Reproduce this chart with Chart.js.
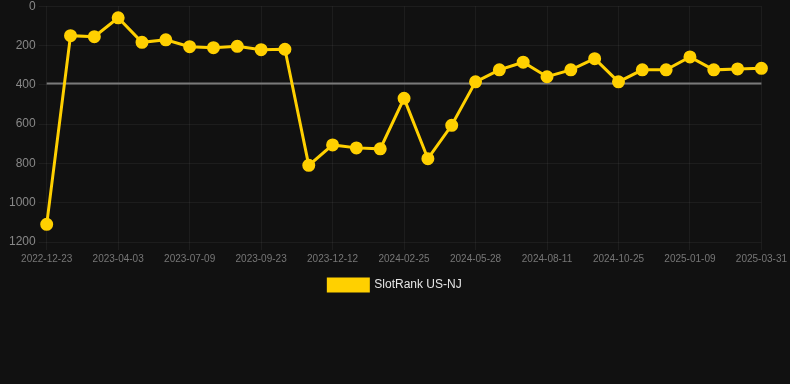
<!DOCTYPE html>
<html>
<head>
<meta charset="utf-8">
<script src="https://cdn.jsdelivr.net/npm/chart.js@4/dist/chart.umd.min.js"></script>
<style>
  html, body { margin: 0; padding: 0; background: #111111; overflow: hidden; }
  #wrap { position: relative; top: -4px; width: 790px; height: 305px; }
</style>
</head>
<body>
<div id="wrap"><canvas id="rankChart"></canvas></div>
<script>
const dates = [
    '2022-12-23', '2023-01-26', '2023-03-01', '2023-04-03', '2023-05-05', '2023-06-07',
    '2023-07-09', '2023-08-04', '2023-08-29', '2023-09-23', '2023-10-20', '2023-11-16',
    '2023-12-12', '2024-01-06', '2024-01-31', '2024-02-25', '2024-03-27', '2024-04-27',
    '2024-05-28', '2024-06-22', '2024-07-17', '2024-08-11', '2024-09-05', '2024-09-30',
    '2024-10-25', '2024-11-19', '2024-12-15', '2025-01-09', '2025-02-05', '2025-03-04',
    '2025-03-31'
];
const rankUsNj = [
    1110, 150, 155, 59, 184, 171, 206, 211, 204, 221, 219,
    810, 706, 721, 726, 469, 776, 606, 385, 324, 285,
    359, 324, 267, 385, 324, 324, 258, 324, 319, 316
];
const averageRank = dates.map(() => 393);
const yTicks = [0, 200, 400, 600, 800, 1000, 1200];

document.addEventListener('DOMContentLoaded', function() {
    const ctx = document.getElementById('rankChart').getContext('2d');

    const rankChart = new Chart(ctx, {
        type: 'line',
        data: {
            labels: dates,
            datasets: [
                {
                    label: 'SlotRank US-NJ',
                    data: rankUsNj,
                    borderColor: '#FFD000',
                    backgroundColor: '#FFD000',
                    borderWidth: 3,
                    pointRadius: 5,
                    pointHoverRadius: 6,
                    tension: 0,
                    fill: false,
                },
                {
                    label: 'Average',
                    data: averageRank,
                    borderColor: '#7a7a7a',
                    borderWidth: 2,
                    pointRadius: 0,
                    fill: false,
                }
            ]
        },
        options: {
            responsive: true,
            maintainAspectRatio: false,
            animation: false,
            layout: {
                padding: { left: 6, right: 6, top: 0, bottom: 0 }
            },
            plugins: {
                legend: {
                    position: 'bottom',
                    labels: {
                        color: '#e6e6e6',
                        boxWidth: 40,
                        boxHeight: 12,
                        padding: 11,
                        font: { family: 'Liberation Sans, Arial, sans-serif', size: 12 },
                        filter: item => item.datasetIndex === 0
                    }
                },
                tooltip: { enabled: false }
            },
            scales: {
                x: {
                    grid: {
                        color: c => (c.index % 3 === 0 ? 'rgba(255,255,255,0.05)' : 'rgba(0,0,0,0)')
                    },
                    border: { display: false },
                    ticks: {
                        color: '#777777',
                        autoSkip: false,
                        maxRotation: 0,
                        font: { family: 'Liberation Sans, Arial, sans-serif', size: 10 },
                        callback: function(value, index) {
                            return index % 3 === 0 ? dates[index] : '';
                        }
                    }
                },
                y: {
                    reverse: true,
                    min: yTicks[0],
                    max: yTicks[yTicks.length - 1],
                    grid: { color: 'rgba(255,255,255,0.05)' },
                    border: { display: false },
                    afterBuildTicks: axis => {
                        axis.ticks = yTicks.map(v => ({ value: v }));
                    },
                    ticks: {
                        color: '#888888',
                        font: { family: 'Liberation Sans, Arial, sans-serif', size: 12 },
                        callback: value => String(value)
                    }
                }
            }
        }
    });
});
</script>
</body>
</html>
